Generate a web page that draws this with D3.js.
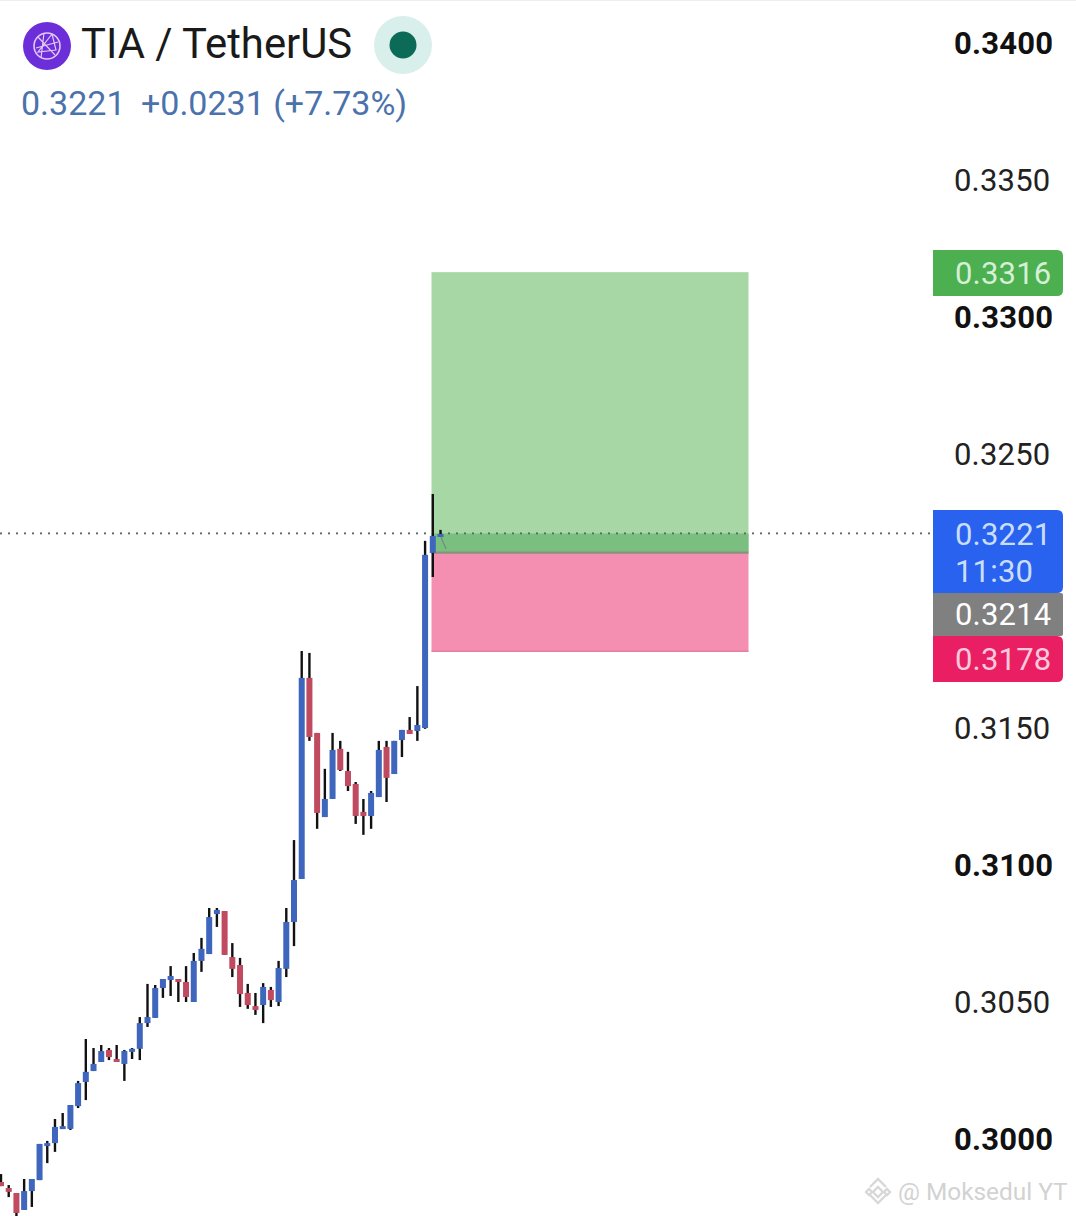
<!DOCTYPE html>
<html>
<head>
<meta charset="utf-8">
<script src="https://cdn.jsdelivr.net/npm/d3@7"></script>
<style>
  html, body { margin: 0; padding: 0; background: #fff; }
  svg { display: block; font-family: Roboto, sans-serif; }
</style>
</head>
<body>
<svg width="1076" height="1216"></svg>
<script>
const opens = [.29843,.29821,.29803,.29741,.29810,.29850,.29978,.29985,.30040,.30037,.30120,.30208,.30248,.30281,.30325,.30292,.30274,.30325,.30329,.30423,.30442,.30551,.30580,.30584,.30573,.30500,.30650,.30675,.30821,.30832,.30664,.30635,.30533,.30485,.30489,.30544,.30500,.30621,.30792,.30949,.31683,.31482,.31175,.31241,.31424,.31343,.31296,.31194,.31179,.31248,.31431,.31332,.31456,.31493,.31489,.31500,.32139,.32197];
const closes = [.29828,.29807,.29730,.29810,.29854,.29982,.29985,.30044,.30047,.30124,.30204,.30245,.30274,.30321,.30299,.30281,.30321,.30329,.30423,.30445,.30551,.30584,.30595,.30573,.30518,.30650,.30694,.30810,.30836,.30672,.30621,.30529,.30489,.30471,.30555,.30507,.30624,.30792,.30945,.31683,.31467,.31190,.31241,.31420,.31347,.31288,.31179,.31179,.31263,.31420,.31318,.31453,.31493,.31478,.31511,.32132,.32201,.32208];
const highs = [.29872,.29832,.29803,.29854,.29854,.29982,.29993,.30073,.30095,.30124,.30212,.30365,.30332,.30343,.30332,.30343,.30325,.30332,.30445,.30566,.30562,.30584,.30631,.30584,.30631,.30679,.30734,.30843,.30843,.30832,.30715,.30661,.30566,.30533,.30569,.30555,.30650,.30843,.31091,.31781,.31774,.31482,.31351,.31482,.31453,.31413,.31303,.31241,.31270,.31453,.31453,.31453,.31493,.31540,.31653,.32183,.32354,.32223];
const lows = [.29828,.29788,.29719,.29741,.29752,.29850,.29912,.29953,.30040,.30033,.30113,.30142,.30248,.30281,.30288,.30281,.30212,.30292,.30288,.30409,.30442,.30515,.30522,.30500,.30500,.30500,.30610,.30675,.30774,.30672,.30591,.30482,.30475,.30453,.30423,.30482,.30485,.30591,.30704,.30949,.31453,.31132,.31175,.31241,.31343,.31270,.31150,.31110,.31132,.31248,.31230,.31332,.31394,.31478,.31453,.31497,.32051,.32197];

const axisTicks = [0.34, 0.335, 0.33, 0.325, 0.315, 0.31, 0.305, 0.30];
const boldTicks = [0.34, 0.33, 0.31, 0.30];

const lastPrice = 0.3221;
const targetPrice = 0.3316;
const entryPrice = 0.3214;
const stopPrice = 0.3178;

const svg = d3.select("svg");

const y = d3.scaleLinear().domain([0.30, 0.34]).range([1139, 43]);
const x = d3.scalePoint().domain(d3.range(opens.length)).range([1, 440.5]);

// top edge of the screenshot
svg.append("rect").attr("width", 1076).attr("height", 1).attr("fill", "#eee");

// long position box
const boxX = 431.5, boxW = 317;
svg.append("rect").attr("x", boxX).attr("width", boxW)
  .attr("y", y(targetPrice) - 1).attr("height", y(entryPrice) - y(targetPrice) + 1)
  .attr("fill", "#a6d7a5");
svg.append("rect").attr("x", boxX).attr("width", boxW)
  .attr("y", y(lastPrice)).attr("height", y(entryPrice) - y(lastPrice))
  .attr("fill", "#7abe80");
svg.append("rect").attr("x", boxX).attr("width", boxW)
  .attr("y", y(entryPrice)).attr("height", y(stopPrice) - y(entryPrice))
  .attr("fill", "#f48fb1");
svg.append("line").attr("x1", boxX).attr("x2", boxX + boxW)
  .attr("y1", y(stopPrice)).attr("y2", y(stopPrice))
  .attr("stroke", "#e57fa2").attr("stroke-width", 1.5);
svg.append("line").attr("x1", boxX).attr("x2", boxX + boxW)
  .attr("y1", y(entryPrice)).attr("y2", y(entryPrice))
  .attr("stroke", "#8b8f7f").attr("stroke-width", 2.2);

// last price line
svg.append("line").attr("x1", 1).attr("x2", 932)
  .attr("y1", y(lastPrice)).attr("y2", y(lastPrice))
  .attr("stroke", "#5a6a66").attr("stroke-width", 2.2)
  .attr("stroke-linecap", "round")
  .attr("stroke-dasharray", "0 8");

// candles
const candles = svg.append("g").selectAll("g")
  .data(opens.map((o, i) => ({ i: i, o: o, c: closes[i], h: highs[i], l: lows[i] })))
  .enter().append("g");
candles.append("line")
  .attr("x1", d => x(d.i)).attr("x2", d => x(d.i))
  .attr("y1", d => y(d.h)).attr("y2", d => y(d.l))
  .attr("stroke", "#111").attr("stroke-width", 2.4);
candles.append("rect")
  .attr("x", d => x(d.i) - 3).attr("width", 6)
  .attr("y", d => y(Math.max(d.o, d.c)))
  .attr("height", d => Math.max(3, Math.abs(y(d.o) - y(d.c))))
  .attr("fill", d => d.c >= d.o ? "#3f66bd" : "#c04a60");

// little arrow by the last candle
svg.append("line").attr("x1", 441).attr("y1", 537).attr("x2", 446).attr("y2", 549)
  .attr("stroke", "#6f8f78").attr("stroke-width", 1.2);

// price axis
const yAxis = d3.axisRight(y).tickValues(axisTicks).tickSize(0).tickPadding(0)
  .tickFormat(d3.format(".4f"));
const axisG = svg.append("g").attr("transform", "translate(954,0)").call(yAxis);
axisG.select(".domain").remove();
axisG.selectAll("text")
  .attr("font-family", "Roboto, sans-serif")
  .attr("font-size", 31)
  .attr("letter-spacing", 0.2)
  .attr("fill", d => boldTicks.includes(d) ? "#111" : "#222")
  .attr("font-weight", d => boldTicks.includes(d) ? 700 : 400)
  .attr("dy", "0.35em");

// price labels on the axis
function priceTag(y0, y1, r, fill, textFill, lines) {
  svg.append("path")
    .attr("d", `M933 ${y0}H${1063 - r}Q1063 ${y0} 1063 ${y0 + r}V${y1 - r}Q1063 ${y1} ${1063 - r} ${y1}H933Z`)
    .attr("fill", fill);
  lines.forEach(l => {
    svg.append("text").attr("x", 955).attr("y", l[1])
      .attr("font-size", 31).attr("letter-spacing", 0.2).attr("fill", textFill).text(l[0]);
  });
}
priceTag(250, 296, 6, "#4caf50", "#d5f0d6", [[d3.format(".4f")(targetPrice), 284]]);
priceTag(510, 593, 6, "#2962ee", "#c9defc", [[d3.format(".4f")(lastPrice), 545], ["11:30", 582]]);
priceTag(636, 682, 6, "#e91e63", "#fbc9dc", [[d3.format(".4f")(stopPrice), 670]]);
priceTag(593, 636, 2, "#808080", "#ffffff", [[d3.format(".4f")(entryPrice), 625]]);

// header
const head = svg.append("g");
head.append("circle").attr("cx", 47).attr("cy", 46).attr("r", 24).attr("fill", "#6c2ed8");
head.append("circle").attr("cx", 47).attr("cy", 46).attr("r", 13)
  .attr("fill", "none").attr("stroke", "#e3c8f5").attr("stroke-width", 1.6);
head.append("path")
  .attr("d", "M38 37L55 55M36 48L58 42M44 33L41 58M52 34L38 52L56 50L52 34")
  .attr("fill", "none").attr("stroke", "#e3c8f5").attr("stroke-width", 1.2);
head.append("text").attr("x", 81).attr("y", 58)
  .attr("font-size", 41.8).attr("fill", "#1a1a1a").text("TIA / TetherUS");
head.append("circle").attr("cx", 403).attr("cy", 45).attr("r", 29).attr("fill", "#d9efeb");
head.append("circle").attr("cx", 403).attr("cy", 45).attr("r", 13.5).attr("fill", "#0b6b57");
head.append("text").attr("x", 21).attr("y", 115)
  .attr("font-size", 34).attr("fill", "#4a72ab").text("0.3221");
head.append("text").attr("x", 141).attr("y", 115)
  .attr("font-size", 34).attr("fill", "#4a72ab").text("+0.0231 (+7.73%)");

// watermark
const mark = svg.append("g").attr("fill", "none").attr("stroke", "#d8d8d8").attr("stroke-width", 2.4);
mark.append("path").attr("d", "M870 1187L878 1179L886 1187");
mark.append("path").attr("d", "M870 1195L878 1203L886 1195");
mark.append("path").attr("d", "M878 1187L883 1192L878 1197L873 1192Z");
mark.append("path").attr("d", "M866 1192L869 1189L872 1192L869 1195Z");
mark.append("path").attr("d", "M884 1192L887 1189L890 1192L887 1195Z");
svg.append("text").attr("x", 898).attr("y", 1200)
  .attr("font-size", 24.4).attr("fill", "#d2d2d2").text("@ Moksedul YT");
</script>
</body>
</html>
